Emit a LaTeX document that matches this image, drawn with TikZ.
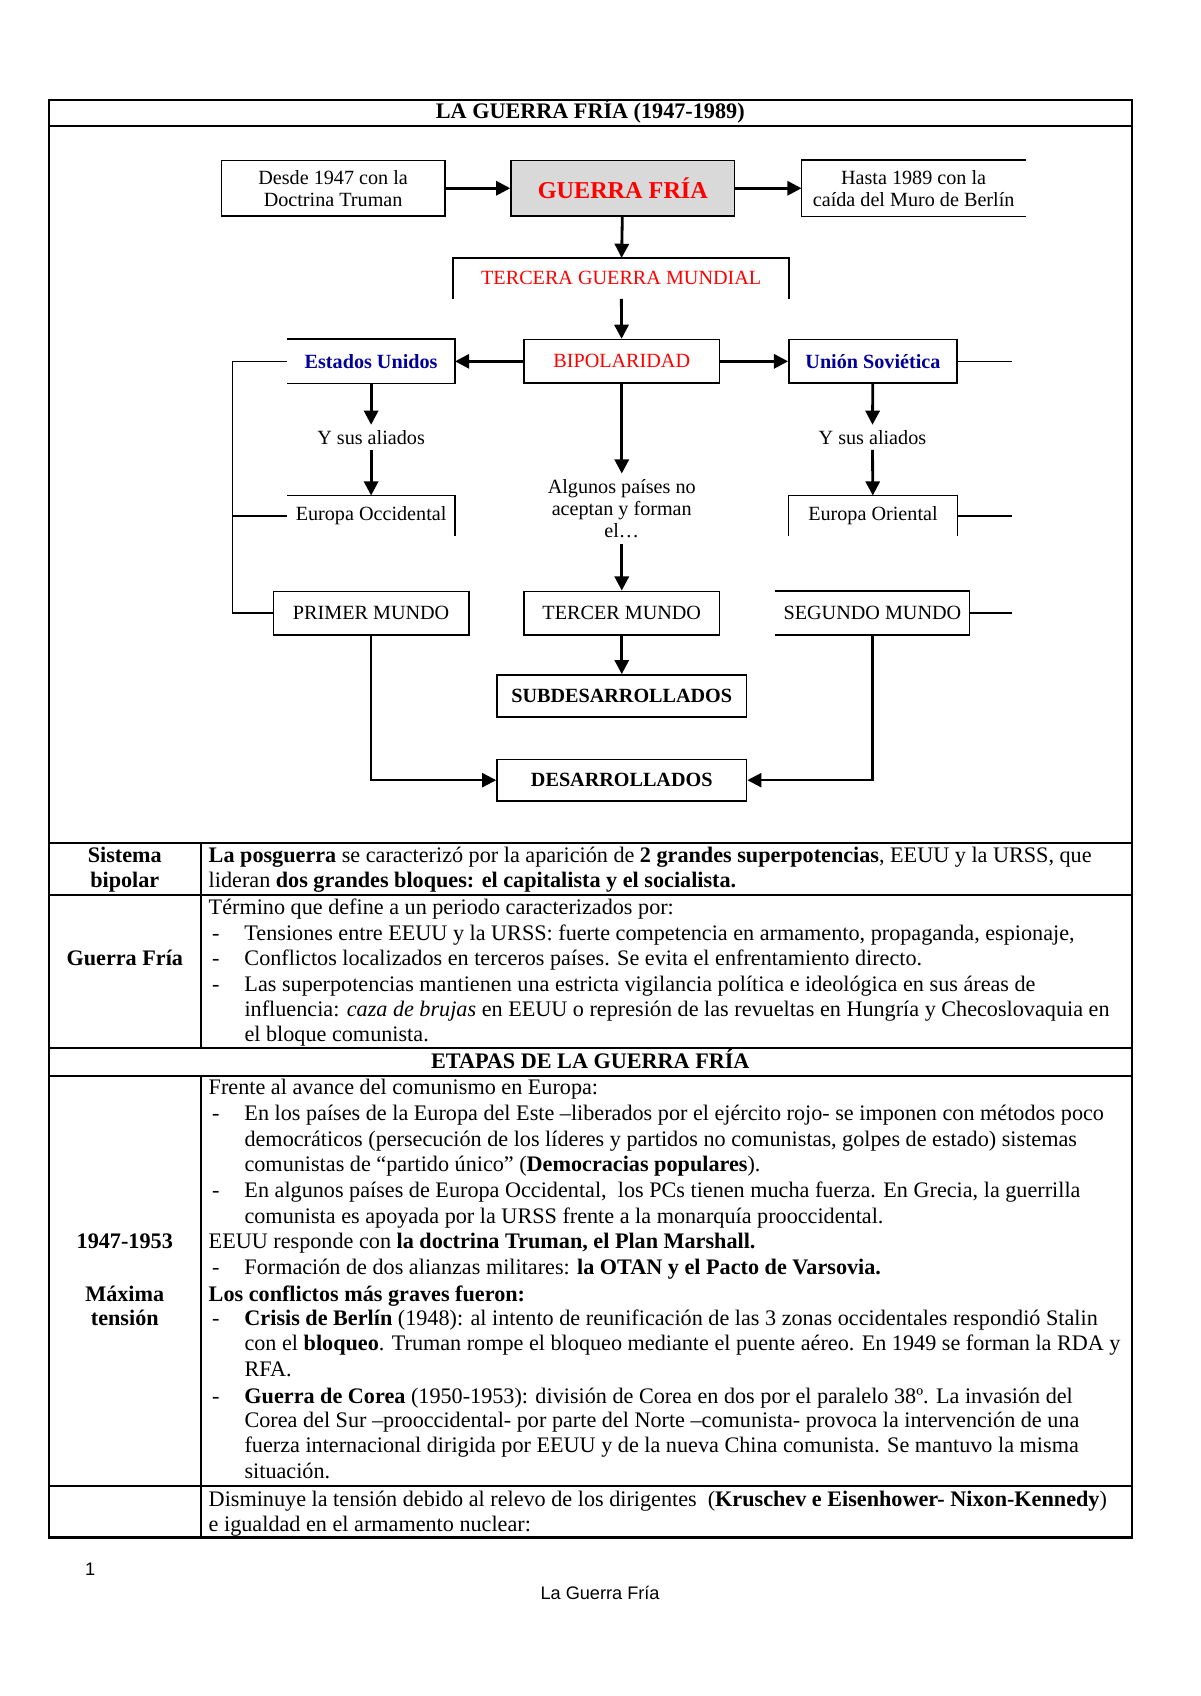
\documentclass[tikz,border=0pt]{standalone}
\usepackage{fontspec}
\setmainfont{Liberation Serif}
\newfontfamily\footfont{Liberation Sans}
\usetikzlibrary{arrows.meta}
\definecolor{rojo}{RGB}{255,0,0}
\definecolor{azul}{RGB}{0,0,153}
\begin{document}
\begin{tikzpicture}[x=0.538pt,y=-0.538pt,
 dg/.style={font=\fontsize{10}{11}\selectfont, inner sep=0pt, align=center},
 bx/.style={dg, draw, line width=0.8pt},
 nb/.style={dg},
 sz/.style 2 args={minimum width={#1*0.538pt}, minimum height={#2*0.538pt}},
 edge/.style={line width=0.8pt},
 arr/.style={line width=1.4pt, -{Triangle[length=7pt,width=7pt]}},
 arrb/.style={line width=1.1pt, -{Triangle[length=7pt,width=7pt]}},
 conn/.style={line width=0.6pt},
 tl/.style={anchor=base west, inner sep=0pt, font=\fontsize{11}{12.6}\selectfont},
 tc/.style={anchor=base, inner sep=0pt, font=\fontsize{11}{12.6}\selectfont\bfseries},
 tabo/.style={line width=1.2pt},
 tabi/.style={line width=1pt}
]
\useasboundingbox (0,0) rectangle (1106,1563);
\fill[white] (0,0) rectangle (1106,1563);

% ---------- diagram ----------
\node[bx, sz={206}{51}] (b1) at (307,173.5) {Desde 1947 con la\\Doctrina Truman};
\node[bx, sz={206}{51}, fill=gray!30, text=rojo, font=\fontsize{12}{14}\selectfont\bfseries] (gf) at (574,173.5) {GUERRA FRÍA};
\node[nb, sz={206}{51}] (hasta) at (842,173.5) {Hasta 1989 con la\\caída del Muro de Berlín};
\draw[edge] (hasta.north east) -- (hasta.north west) -- (hasta.south west) -- (hasta.south east);

\node[nb, sz={309}{37}, text=rojo] (terc) at (572.5,256.5) {TERCERA GUERRA MUNDIAL};
\draw[edge] (terc.south west) -- (terc.north west) -- (terc.north east) -- (terc.south east);

\node[bx, sz={180}{40}, text=rojo] (bip) at (573,333) {BIPOLARIDAD};
\node[nb, sz={154}{40}, text=azul, font=\fontsize{10}{11}\selectfont\bfseries] (eu) at (342,333) {Estados Unidos};
\draw[edge] (eu.north west) -- (eu.north east) -- (eu.south east) -- (eu.south west);
\node[bx, sz={155}{40}, text=azul, font=\fontsize{10}{11}\selectfont\bfseries] (us) at (804.5,333) {Unión Soviética};

\node[dg, inner sep=2.5pt] (ysa1) at (342,403) {Y sus aliados};
\node[dg, inner sep=2.5pt] (ysa2) at (804,403) {Y sus aliados};

\node[nb, sz={154}{37}] (eocc) at (342,475.5) {Europa Occidental};
\draw[edge] (eocc.north west) -- (eocc.north east) -- (eocc.south east);
\node[nb, sz={155}{37}] (eori) at (804.5,475.5) {Europa Oriental};
\draw[edge] (eori.south west) -- (eori.north west) -- (eori.north east) -- (eori.south east);

\node[dg, inner sep=3pt, font=\fontsize{10}{10.8}\selectfont] (alg) at (573,469) {Algunos países no\\aceptan y forman\\el…};

\node[bx, sz={180}{40}] (primer) at (342,565) {PRIMER MUNDO};
\node[bx, sz={180}{40}] (tercer) at (573,565) {TERCER MUNDO};
\node[nb, sz={178}{40}] (segundo) at (804,565) {SEGUNDO MUNDO};
\draw[edge] (segundo.north west) -- (segundo.north east) -- (segundo.south east) -- (segundo.south west);

\node[bx, sz={230}{39}, font=\fontsize{10}{11}\selectfont\bfseries] (subdes) at (573,641.5) {SUBDESARROLLADOS};
\node[bx, sz={230}{38}, font=\fontsize{10}{11}\selectfont\bfseries] (desarr) at (573,719) {DESARROLLADOS};

\draw[arr] (b1) -- (gf);
\draw[arr] (gf) -- (hasta);
\draw[arr] (gf) -- (terc);
\draw[arr] (terc) -- (bip);
\draw[arr] (bip) -- (eu);
\draw[arr] (bip) -- (us);
\draw[arr] (eu) -- (ysa1);
\draw[arr] (ysa1) -- (eocc);
\draw[arr] (us) -- (ysa2);
\draw[arr] (ysa2) -- (eori);
\draw[arr] (bip) -- (alg);
\draw[arr] (alg) -- (tercer);
\draw[arr] (tercer) -- (subdes);
\draw[arrb] (primer.south) |- (desarr.west);
\draw[arrb] (segundo.south) |- (desarr.east);

\coordinate (lv) at (214,333);
\coordinate (rv) at (933,333);
\draw[conn] (eu.west) -- (lv) |- (primer.west);
\draw[conn] (eocc.west) -- (eocc.west -| lv);
\draw[conn] (us.east) -- (us.east -| rv);
\draw[conn] (eori.east) -- (eori.east -| rv);
\draw[conn] (segundo.east) -- (segundo.east -| rv);

% ---------- table ----------
\draw[tabo] (45,92) rectangle (1043,1417);
\draw[tabi] (45,116) -- (1043,116);
\draw[tabi] (45,777) -- (1043,777);
\draw[tabi] (45,825) -- (1043,825);
\draw[tabi] (45,966) -- (1043,966);
\draw[tabi] (45,992) -- (1043,992);
\draw[tabi] (45,1369) -- (1043,1369);
\draw[tabi] (185,777) -- (185,966);
\draw[tabi] (185,992) -- (185,1417);

\node[tc] (title) at (544,109) {LA GUERRA FRÍA (1947-1989)};

\node[tc] (sb1) at (115,795) {Sistema};
\node[tc] (sb2) at (115,818) {bipolar};
\node[tl] (sp1) at (192,795) {\textbf{La posguerra} se caracterizó por la aparición de \textbf{2 grandes superpotencias}, EEUU y la URSS, que};
\node[tl] (sp2) at (192,818) {lideran \textbf{dos grandes bloques: el capitalista y el socialista.}};

\node[tc] (gfl) at (115,890) {Guerra Fría};
\node[tl] (g1) at (192,843) {Término que define a un periodo caracterizados por:};
\node[tl] (g2) at (195,867) {\hbox to 16.1pt{-\hss}Tensiones entre EEUU y la URSS: fuerte competencia en armamento, propaganda, espionaje,};
\node[tl] (g3) at (195,890) {\hbox to 16.1pt{-\hss}Conflictos localizados en terceros países. Se evita el enfrentamiento directo.};
\node[tl] (g4) at (195,914) {\hbox to 16.1pt{-\hss}Las superpotencias mantienen una estricta vigilancia política e ideológica en sus áreas de};
\node[tl] (g5) at (225,937) {influencia: \textit{caza de brujas} en EEUU o represión de las revueltas en Hungría y Checoslovaquia en};
\node[tl] (g6) at (225,960) {el bloque comunista.};

\node[tc] (etapas) at (544,985) {ETAPAS DE LA GUERRA FRÍA};

\node[tc] (e1) at (115,1151) {1947-1953};
\node[tc] (e2) at (115,1199) {Máxima};
\node[tc] (e3) at (115,1222) {tensión};

\node[tl] (r1) at (192,1009) {Frente al avance del comunismo en Europa:};
\node[tl] (r2) at (195,1033) {\hbox to 16.1pt{-\hss}En los países de la Europa del Este –liberados por el ejército rojo- se imponen con métodos poco};
\node[tl] (r3) at (225,1057) {democráticos (persecución de los líderes y partidos no comunistas, golpes de estado) sistemas};
\node[tl] (r4) at (225,1080) {comunistas de “partido único” (\textbf{Democracias populares}).};
\node[tl] (r5) at (195,1104) {\hbox to 16.1pt{-\hss}En algunos países de Europa Occidental,\ \ los PCs tienen mucha fuerza. En Grecia, la guerrilla};
\node[tl] (r6) at (225,1128) {comunista es apoyada por la URSS frente a la monarquía prooccidental.};
\node[tl] (r7) at (192,1151) {EEUU responde con \textbf{la doctrina Truman, el Plan Marshall.}};
\node[tl] (r8) at (195,1175) {\hbox to 16.1pt{-\hss}Formación de dos alianzas militares: \textbf{la OTAN y el Pacto de Varsovia.}};
\node[tl] (r9) at (192,1199) {\textbf{Los conflictos más graves fueron:}};
\node[tl] (r10) at (195,1222) {\hbox to 16.1pt{-\hss}\textbf{Crisis de Berlín} (1948): al intento de reunificación de las 3 zonas occidentales respondió Stalin};
\node[tl] (r11) at (225,1245) {con el \textbf{bloqueo}. Truman rompe el bloqueo mediante el puente aéreo. En 1949 se forman la RDA y};
\node[tl] (r12) at (225,1269) {RFA.};
\node[tl] (r13) at (195,1293) {\hbox to 16.1pt{-\hss}\textbf{Guerra de Corea} (1950-1953): división de Corea en dos por el paralelo 38º. La invasión del};
\node[tl] (r14) at (225,1316) {Corea del Sur –prooccidental- por parte del Norte –comunista- provoca la intervención de una};
\node[tl] (r15) at (225,1339) {fuerza internacional dirigida por EEUU y de la nueva China comunista. Se mantuvo la misma};
\node[tl] (r16) at (225,1363) {situación.};

\node[tl] (d1) at (192,1388) {Disminuye la tensión debido al relevo de los dirigentes\ \ (\textbf{Kruschev e Eisenhower- Nixon-Kennedy})};
\node[tl] (d2) at (192,1411) {e igualdad en el armamento nuclear:};

% ---------- footer ----------
\node[anchor=base, inner sep=0pt, font=\footfont\fontsize{9}{11}\selectfont] (pgnum) at (83,1452) {1};
\node[anchor=base, inner sep=0pt, font=\footfont\fontsize{9}{11}\selectfont] (foot) at (553,1474) {La Guerra Fría};
\end{tikzpicture}
\end{document}
